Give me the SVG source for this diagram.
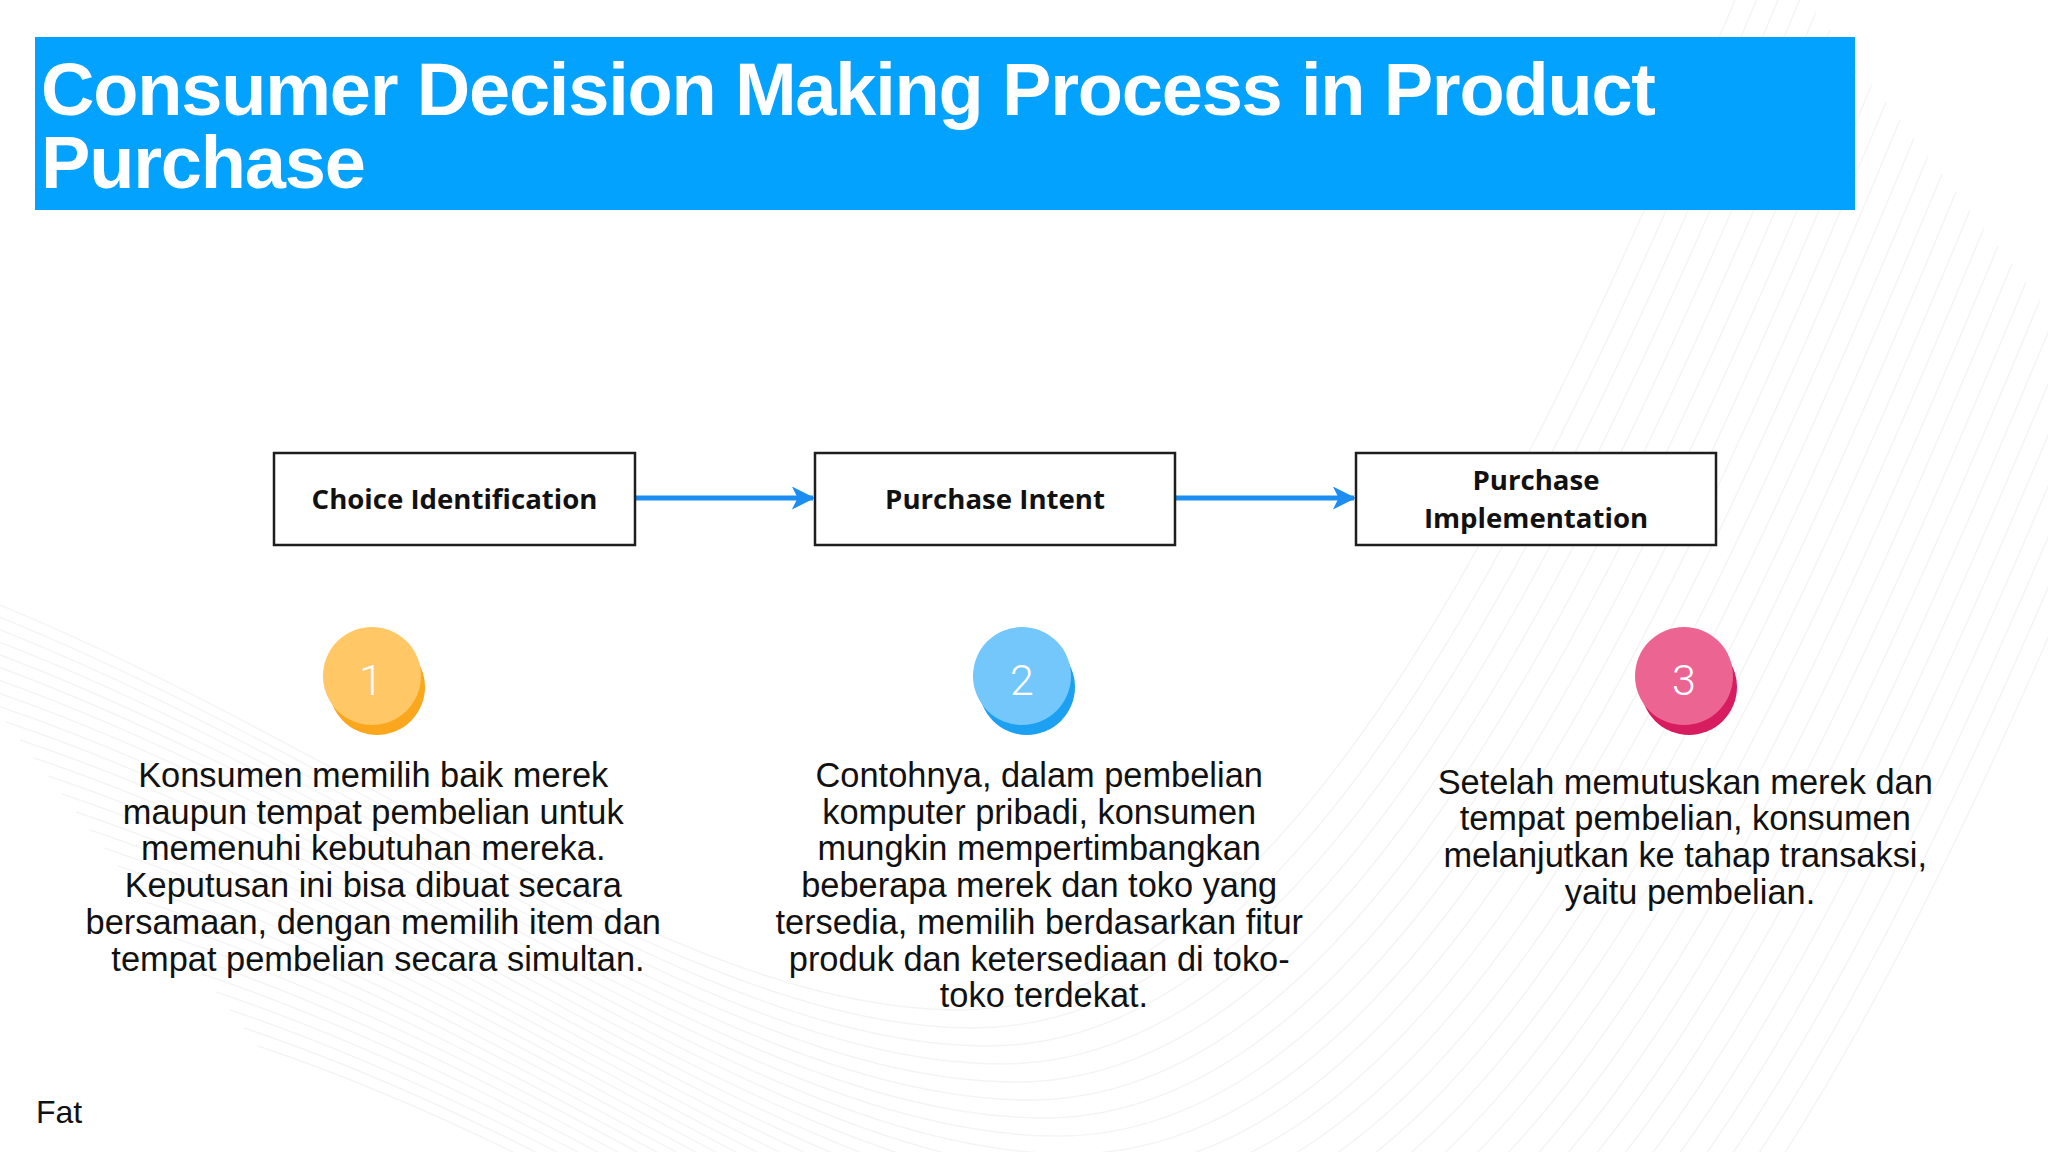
<svg xmlns="http://www.w3.org/2000/svg" width="2048" height="1152" viewBox="0 0 2048 1152">
<defs>
<style>
.title{font-family:"Liberation Sans",Arial,sans-serif;font-weight:bold;font-size:74px;fill:#fff;letter-spacing:-1.2px}
.box{fill:#fff;stroke:#1e1e1e;stroke-width:2.5}
.lbl{font-family:"Open Sans","Noto Sans",sans-serif;font-weight:bold;font-size:27.6px;fill:#111;text-anchor:middle}
.body{font-family:"Liberation Sans",Arial,sans-serif;font-size:34.4px;fill:#111;text-anchor:middle}
.num{font-family:Roboto,"Liberation Sans",sans-serif;font-weight:300;font-size:43px;fill:#fff;text-anchor:middle}
.conn{stroke:#1c8ef2;stroke-width:5;fill:none;marker-end:url(#ah)}
.bg{fill:none;stroke:#000;stroke-opacity:0.045;stroke-width:1.5}
</style>
<marker id="ah" viewBox="0 0 12 12" refX="11" refY="6" markerWidth="4.6" markerHeight="4.6" markerUnits="strokeWidth" orient="auto">
<path d="M0,0 L12,6 L0,12 L3,6 z" fill="#1c8ef2"/>
</marker>
<path id="wave" d="M-120 560 C 300 700, 650 1010, 960 1010 C 1280 1010, 1520 520, 1760 -60"/>
</defs>
<rect width="2048" height="1152" fill="#fff"/>
<g id="background">
<use href="#wave" class="bg" transform="translate(0,0)"/>
<use href="#wave" class="bg" transform="translate(14,18)"/>
<use href="#wave" class="bg" transform="translate(28,36)"/>
<use href="#wave" class="bg" transform="translate(42,54)"/>
<use href="#wave" class="bg" transform="translate(56,72)"/>
<use href="#wave" class="bg" transform="translate(70,90)"/>
<use href="#wave" class="bg" transform="translate(84,108)"/>
<use href="#wave" class="bg" transform="translate(98,126)"/>
<use href="#wave" class="bg" transform="translate(112,144)"/>
<use href="#wave" class="bg" transform="translate(126,162)"/>
<use href="#wave" class="bg" transform="translate(140,180)"/>
<use href="#wave" class="bg" transform="translate(154,198)"/>
<use href="#wave" class="bg" transform="translate(168,216)"/>
<use href="#wave" class="bg" transform="translate(182,234)"/>
<use href="#wave" class="bg" transform="translate(196,252)"/>
<use href="#wave" class="bg" transform="translate(210,270)"/>
<use href="#wave" class="bg" transform="translate(224,288)"/>
<use href="#wave" class="bg" transform="translate(238,306)"/>
<use href="#wave" class="bg" transform="translate(252,324)"/>
<use href="#wave" class="bg" transform="translate(266,342)"/>
<use href="#wave" class="bg" transform="translate(280,360)"/>
<use href="#wave" class="bg" transform="translate(294,378)"/>
<use href="#wave" class="bg" transform="translate(308,396)"/>
<use href="#wave" class="bg" transform="translate(322,414)"/>
<use href="#wave" class="bg" transform="translate(336,432)"/>
<use href="#wave" class="bg" transform="translate(350,450)"/>
<use href="#wave" class="bg" transform="translate(364,468)"/>
<use href="#wave" class="bg" transform="translate(378,486)"/>
</g>
<g id="title">
<rect x="35" y="37" width="1820" height="173" fill="#02a2fe"/>
<text class="title" x="41" y="115">Consumer Decision Making Process in Product</text>
<text class="title" x="41" y="188">Purchase</text>
</g>
<g id="connectors">
<line class="conn" x1="636" y1="498" x2="813" y2="498"/>
<line class="conn" x1="1176" y1="498" x2="1354" y2="498"/>
</g>
<g id="node-choice-identification">
<rect class="box" x="274" y="453" width="361" height="92"/>
<text class="lbl" x="454.5" y="509">Choice Identification</text>
</g>
<g id="node-purchase-intent">
<rect class="box" x="815" y="453" width="360" height="92"/>
<text class="lbl" x="995" y="509">Purchase Intent</text>
</g>
<g id="node-purchase-implementation">
<rect class="box" x="1356" y="453" width="360" height="92"/>
<text class="lbl" x="1536" y="490">Purchase</text>
<text class="lbl" x="1536" y="528">Implementation</text>
</g>
<g id="step-1">
<circle cx="377" cy="687" r="48" fill="#fba71e"/>
<circle cx="372" cy="676" r="49" fill="#ffc766"/>
<text class="num" x="371" y="695">1</text>
<text class="body">
<tspan x="378" y="787">Konsumen memilih baik merek</tspan>
<tspan x="378" y="823.7">maupun tempat pembelian untuk</tspan>
<tspan x="378" y="860.4">memenuhi kebutuhan mereka.</tspan>
<tspan x="378" y="897.1">Keputusan ini bisa dibuat secara</tspan>
<tspan x="378" y="933.8">bersamaan, dengan memilih item dan</tspan>
<tspan x="378" y="970.5">tempat pembelian secara simultan.</tspan>
</text>
</g>
<g id="step-2">
<circle cx="1027" cy="687" r="48" fill="#1ba0f2"/>
<circle cx="1022" cy="676" r="49" fill="#74c7fa"/>
<text class="num" x="1022" y="695">2</text>
<text class="body">
<tspan x="1044" y="787">Contohnya, dalam pembelian</tspan>
<tspan x="1044" y="823.7">komputer pribadi, konsumen</tspan>
<tspan x="1044" y="860.4">mungkin mempertimbangkan</tspan>
<tspan x="1044" y="897.1">beberapa merek dan toko yang</tspan>
<tspan x="1044" y="933.8">tersedia, memilih berdasarkan fitur</tspan>
<tspan x="1044" y="970.5">produk dan ketersediaan di toko-</tspan>
<tspan x="1044" y="1007.2">toko terdekat.</tspan>
</text>
</g>
<g id="step-3">
<circle cx="1689" cy="687" r="48" fill="#d81c60"/>
<circle cx="1684" cy="676" r="49" fill="#ec6592"/>
<text class="num" x="1684" y="695">3</text>
<text class="body">
<tspan x="1690" y="793.5">Setelah memutuskan merek dan</tspan>
<tspan x="1690" y="830.2">tempat pembelian, konsumen</tspan>
<tspan x="1690" y="866.9">melanjutkan ke tahap transaksi,</tspan>
<tspan x="1690" y="903.6">yaitu pembelian.</tspan>
</text>
</g>
<text x="36" y="1123" font-family="Liberation Sans, Arial, sans-serif" font-size="32" fill="#111">Fat</text>
</svg>
